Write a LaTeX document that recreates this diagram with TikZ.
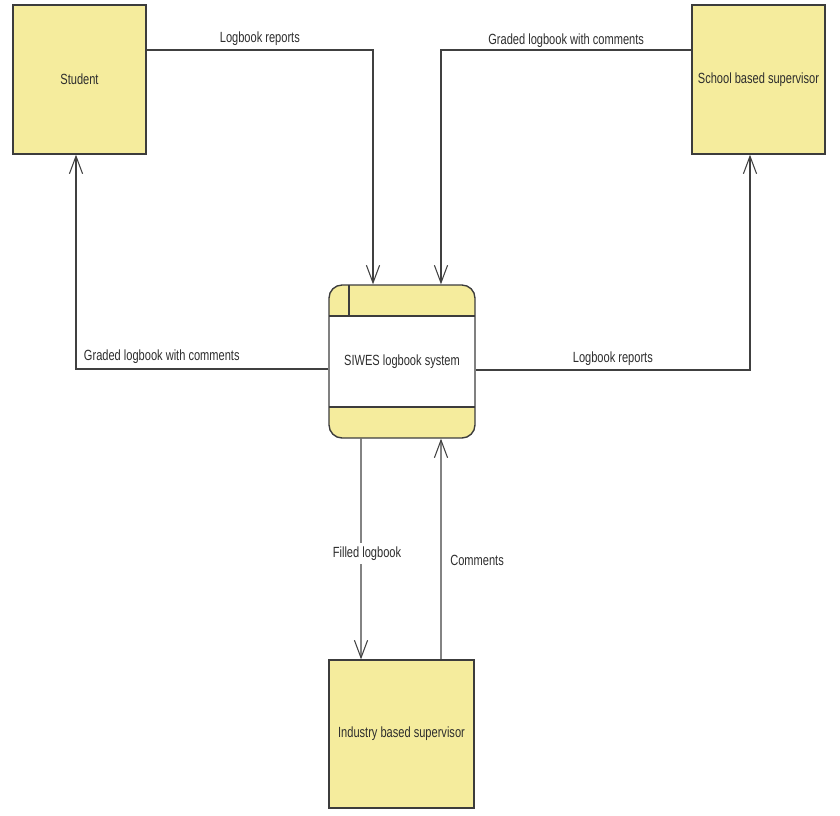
\documentclass[tikz,border=0pt]{standalone}
\usepackage{fontspec}
\setmainfont[FakeStretch=0.75]{Liberation Sans}
\usetikzlibrary{arrows.meta, positioning}
\definecolor{boxFill}{HTML}{F5EC9D}
\definecolor{boxLine}{HTML}{3C3C3C}
\definecolor{flowLine}{HTML}{404040}
\definecolor{textDark}{HTML}{2D2D2D}

\begin{document}
\begin{tikzpicture}[x=0.02cm, y=-0.02cm,
    entity/.style={rectangle, draw=boxLine, fill=boxFill, line width=0.8pt,
                   minimum width=2.66cm, minimum height=2.98cm, inner sep=0pt,
                   font=\fontsize{8.4}{10}\selectfont\color{textDark}, align=center},
    procbox/.style={rectangle, rounded corners=0.26cm, draw=boxLine, fill=white,
                    line width=0.8pt, minimum width=2.92cm, minimum height=3.06cm,
                    font=\fontsize{8.4}{10}\selectfont\color{textDark},
                    path picture={
                      \fill[boxFill, sharp corners] (path picture bounding box.north west)
                        rectangle ([yshift=-0.62cm]path picture bounding box.north east);
                      \fill[boxFill, sharp corners] (path picture bounding box.south west)
                        rectangle ([yshift=0.62cm]path picture bounding box.south east);
                      \draw[boxLine, line width=0.8pt, sharp corners]
                        ([yshift=-0.62cm]path picture bounding box.north west)
                        -- ([yshift=-0.62cm]path picture bounding box.north east)
                        ([yshift=0.62cm]path picture bounding box.south west)
                        -- ([yshift=0.62cm]path picture bounding box.south east)
                        ([xshift=0.4cm]path picture bounding box.north west)
                        -- ([xshift=0.4cm, yshift=-0.62cm]path picture bounding box.north west);
                    }},
    flow/.style={draw=flowLine, line width=0.6pt,
                 -{Straight Barb[length=10pt, width=7.5pt]}},
    lbl/.style={font=\fontsize{8.4}{10}\selectfont\color{textDark}, inner sep=2pt},
  ]
    \useasboundingbox (0,0) rectangle (840,816);

    % external entities
    \node[entity] (student) at (79.5,79.5) {Student};
    \node[entity] (school) at (758.5,79.5) {School based supervisor};
    \node[entity, minimum width=2.9cm, minimum height=2.96cm] (industry) at (401.5,734)
      {Industry based supervisor};

    % process
    \node[procbox] (siwes) at (402,361.5) {SIWES logbook system};

    % data flows
    \draw[flow] ([yshift=0.59cm]student.east) -| ([xshift=-0.58cm]siwes.north)
      node[lbl, pos=0.25, above] {Logbook reports};
    \draw[flow] ([yshift=0.59cm]school.west) -| ([xshift=0.78cm]siwes.north)
      node[lbl, pos=0.25, above, inner sep=1pt] {Graded logbook with comments};
    \draw[flow] ([yshift=-0.15cm]siwes.west) -| ([xshift=-0.07cm]student.south)
      node[lbl, pos=0.33, above, inner sep=3pt] {Graded logbook with comments};
    \draw[flow] ([yshift=-0.17cm]siwes.east) -| ([xshift=-0.17cm]school.south)
      node[lbl, pos=0.25, above] {Logbook reports};
    \draw[flow] ([xshift=-0.82cm]siwes.south) -- ([xshift=-0.81cm]industry.north)
      node[lbl, pos=0.52, fill=white, xshift=0.12cm] {Filled logbook};
    \draw[flow] ([xshift=0.79cm]industry.north) -- ([xshift=0.78cm]siwes.south)
      node[lbl, pos=0.45, right, inner sep=5pt] {Comments};
  \end{tikzpicture}
\end{document}
